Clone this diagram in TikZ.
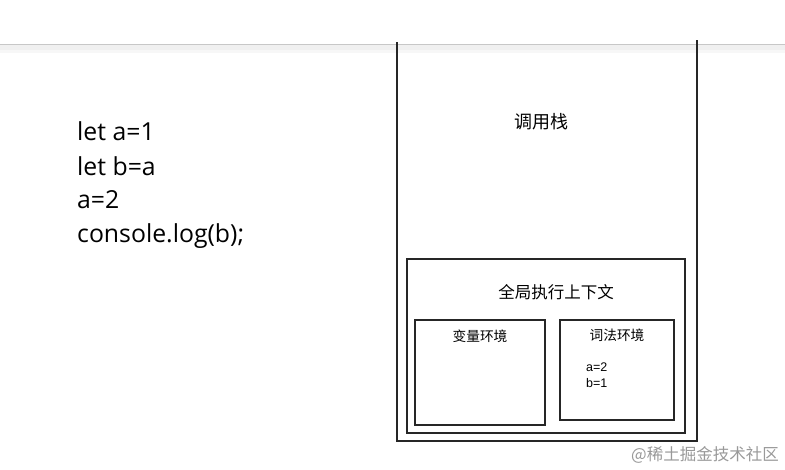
\documentclass[tikz,border=0pt]{standalone}
\usepackage{fontspec}
\setmainfont{Open Sans}
\newfontfamily\cjk{Noto Sans CJK SC}
\newfontfamily\lat{Liberation Sans}
\begin{document}
\begin{tikzpicture}[x=1pt,y=-1pt,
  box/.style={draw=black!85,line width=1.6pt},
  lbl/.style={inner sep=0pt,font=\cjk\fontsize{16.5}{18}\selectfont},
  sml/.style={inner sep=0pt,font=\cjk\fontsize{13.7}{15}\selectfont},
  code/.style={inner sep=0pt,anchor=west,font=\fontsize{24.8}{28}\selectfont}]
\useasboundingbox (0,0) rectangle (785,469);
\fill[white] (0,0) rectangle (785,469);
% top bar with shadow
\fill[black!6] (0,45) rectangle (785,50);
\fill[black!3] (0,50) rectangle (785,53);
\draw[black!22,line width=1.6pt] (0,44.5) -- (785,44.5);
% call stack
\coordinate (stl) at (397,42);
\coordinate (str) at (697,40);
\draw[box] (stl) -- (397,441) -- (697,441) -- (str);
\node[inner sep=0pt,font=\cjk\fontsize{18}{20}\selectfont] (stack) at (541,122) {调用栈};
% global context
\draw[box] (407,259) rectangle (685,433);
\node[lbl] (gec) at (556,292) {全局执行上下文};
\draw[box] (415,320) rectangle (545,425);
\node[sml] (var) at (480,336) {变量环境};
\draw[box] (560,320) rectangle (674,420);
\node[sml] (lex) at (617,335) {词法环境};
\node[inner sep=0pt,anchor=west,font=\lat\fontsize{12.5}{14}\selectfont] (a2) at (586,367) {a=2};
\node[inner sep=0pt,anchor=west,font=\lat\fontsize{12.5}{14}\selectfont] (b1) at (586,383) {b=1};
% code
\node[code] (c1) at (77,131) {let a=1};
\node[code] (c2) at (77,166) {let b=a};
\node[code] (c3) at (77,200) {a=2};
\node[code] (c4) at (77,236) {console.log(b);};
% watermark
\node[inner sep=0pt,anchor=east,text=black!40,font=\cjk\fontsize{16.5}{18}\selectfont] (wm) at (779,455) {@稀土掘金技术社区};
\end{tikzpicture}
\end{document}
